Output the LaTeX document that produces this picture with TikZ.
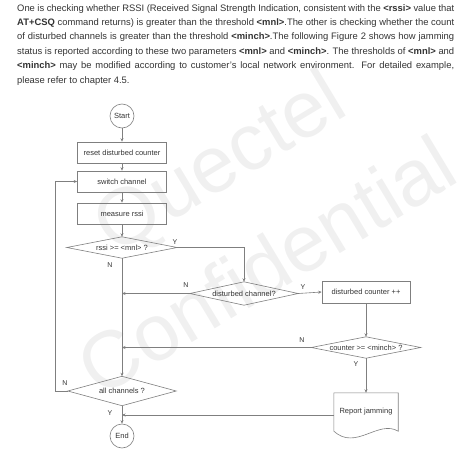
\documentclass[tikz,border=0pt]{standalone}
\usepackage{fontspec}
\setmainfont{Liberation Sans}
\usetikzlibrary{arrows.meta}
\definecolor{lc}{HTML}{7F7F7F}
\definecolor{tc}{HTML}{333333}
\definecolor{wm}{HTML}{F0F0F0}
\begin{document}
\begin{tikzpicture}[x=1pt,y=-1pt,
  ln/.style={draw=lc, line width=0.6pt},
  arr/.style={ln, -{Stealth[length=3.5pt,width=3pt]}},
  box/.style={draw=lc, line width=0.6pt, rectangle, minimum width=89pt, minimum height=21pt, inner sep=0pt, font=\fontsize{7.5}{9}\selectfont, text=tc},
  term/.style={circle, draw=lc, line width=0.6pt, minimum size=24pt, inner sep=0pt, font=\fontsize{7.5}{9}\selectfont, text=tc},
  dia/.style={rectangle, inner sep=0pt, font=\fontsize{7.5}{9}\selectfont, text=tc},
  lab/.style={font=\fontsize{7}{8}\selectfont, text=tc, inner sep=0pt}
]
\useasboundingbox (0,0) rectangle (474,463);
% watermark
\node[rotate=31, font=\fontsize{80}{80}\selectfont, text=wm] (wm1) at (222,166) {Quectel};
\node[rotate=31, font=\fontsize{80}{80}\selectfont, text=wm] (wm2) at (266,265) {Confidential};
% paragraph
\node[anchor=north west, inner sep=0pt, text width=437pt, align=justify, text=tc,
      font=\fontsize{9.4}{14.4}\selectfont] (para) at (17,4) {%
One is checking whether RSSI (Received Signal Strength Indication, consistent with the \textbf{<rssi>} value that\linebreak
\textbf{AT+CSQ} command returns) is greater than the threshold \textbf{<mnl>}.The other is checking whether the count\linebreak
of disturbed channels is greater than the threshold \textbf{<minch>}.The following Figure 2 shows how jamming\linebreak
status is reported according to these two parameters \textbf{<mnl>} and \textbf{<minch>}. The thresholds of \textbf{<mnl>} and\linebreak
\textbf{<minch>} may be modified according to customer’s local network environment. For detailed example,\linebreak
please refer to chapter 4.5.};
% nodes
\node[term] (start) at (122,116) {Start};
\node[box] (reset) at (122,152.5) {reset disturbed counter};
\node[box] (sw) at (122,181.5) {switch channel};
\node[box] (meas) at (122,213.5) {measure rssi};
\node[dia, minimum width=110pt, minimum height=21pt] (rssi) at (122,247.5) {rssi >= <mnl> ?};
\node[dia, minimum width=108pt, minimum height=23pt] (dist) at (244,293.5) {disturbed channel?};
\node[box, minimum width=88pt, minimum height=22pt] (dcnt) at (366,292) {disturbed counter ++};
\node[dia, minimum width=109pt, minimum height=21pt] (cnt) at (366,347.5) {counter >= <minch> ?};
\node[dia, minimum width=64pt, minimum height=38pt, yshift=-1pt] (rep) at (366,411) {Report jamming};
\node[dia, minimum width=108pt, minimum height=29pt] (allch) at (122,391) {all channels ?};
\node[term] (end) at (122,436) {End};
% diamond outlines
\foreach \d in {rssi,dist,cnt,allch}
  \draw[ln] (\d.north) -- (\d.east) -- (\d.south) -- (\d.west) -- cycle;
% document shape
\draw[ln] (rep.south west) -- (rep.north west) -- (rep.north east) -- (rep.south east)
  .. controls +(-20,-12) and +(22,20) .. (rep.south west);
% connectors
\draw[arr] (start) -- (reset);
\draw[arr] (reset) -- (sw);
\draw[arr] (sw) -- (meas);
\draw[arr] (meas) -- (rssi.north);
\draw[arr] (rssi.east) -- (rssi.east -| dist.north) -- (dist.north);
\draw[arr] (rssi.south) -- (allch.north);
\draw[arr] (dist.west) -- (dist.west -| rssi.south);
\draw[arr] (dist.east) -- (dcnt.west);
\draw[arr] (dcnt.south) -- (cnt.north);
\draw[arr] (cnt.west) -- (cnt.west -| rssi.south);
\draw[arr] (cnt.south) -- (rep.north);
\draw[arr] ([yshift=-3pt]rep.west) -- ([yshift=-3pt]rep.west -| allch.south);
\draw[arr] (allch.south) -- (end);
\draw[arr] (allch.west) -- ++(-13,0) |- (sw.west);
% labels
\node[lab] (l1) at (175,242) {Y};
\node[lab] (l2) at (110,265) {N};
\node[lab] (l3) at (186,285) {N};
\node[lab] (l4) at (303,287) {Y};
\node[lab] (l5) at (302,340) {N};
\node[lab] (l6) at (356,364) {Y};
\node[lab] (l7) at (65,383) {N};
\node[lab] (l8) at (110,413) {Y};
\end{tikzpicture}
\end{document}
